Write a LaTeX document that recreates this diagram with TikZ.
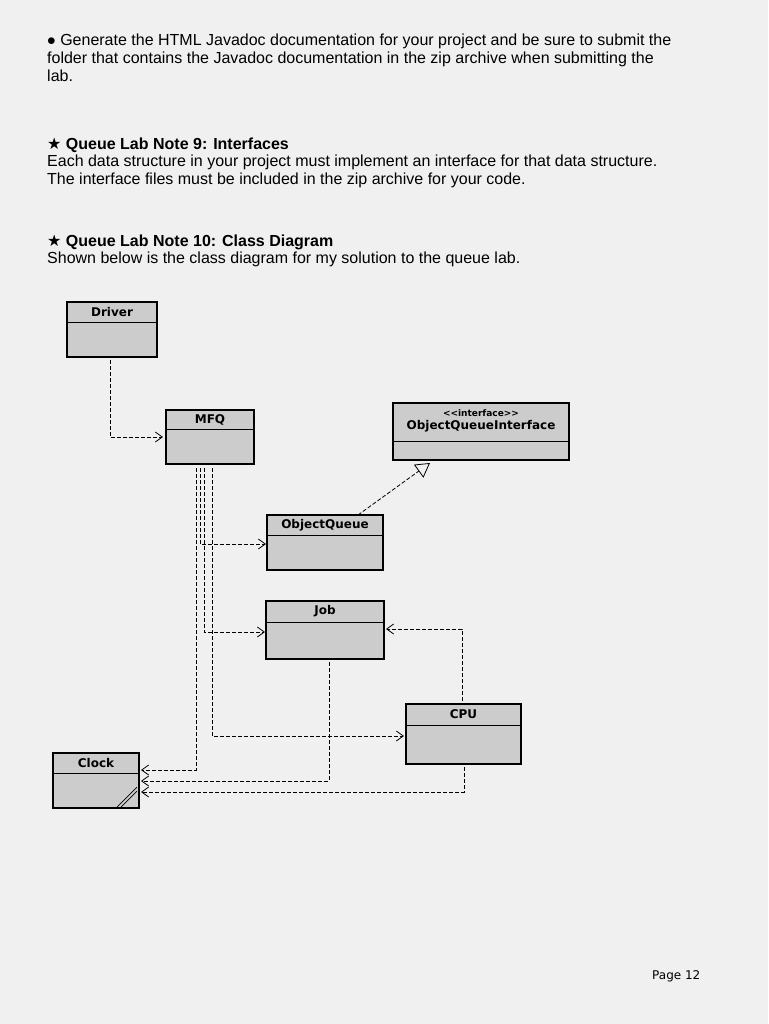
\documentclass[tikz,border=0pt]{standalone}
\usepackage{fontspec}
\setmainfont{Liberation Sans}
\newfontfamily\dv{DejaVu Sans}
\usetikzlibrary{arrows.meta}
\begin{document}
\begin{tikzpicture}[x=1pt,y=-1pt,
  txt/.style={anchor=base west,inner sep=0,font=\fontsize{16}{18}\selectfont},
  hd/.style={font=\dv\bfseries\fontsize{12}{14}\selectfont},
  dep/.style={dashed,dash pattern=on 4pt off 2pt,line width=0.8pt,-{Straight Barb[length=7pt,width=10pt]}},
  real/.style={dashed,dash pattern=on 4pt off 2pt,line width=0.8pt,-{Triangle[open,length=14pt,width=16pt,fill=black!6]}}]
\fill[black!6] (0,0) rectangle (768,1024);
\useasboundingbox (0,0) rectangle (768,1024);
\node[txt] (t1) at (47,46) {$\bullet$ Generate the HTML Javadoc documentation for your project and be sure to submit the};
\node[txt] (t2) at (47,64) {folder that contains the Javadoc documentation in the zip archive when submitting the};
\node[txt] (t3) at (47,82) {lab.};
\node[txt] (t4) at (47,150) {{\dv ★} \textbf{Queue Lab Note 9: Interfaces}};
\node[txt] (t5) at (47,167) {Each data structure in your project must implement an interface for that data structure.};
\node[txt] (t6) at (47,185) {The interface files must be included in the zip archive for your code.};
\node[txt] (t7) at (47,246) {{\dv ★} \textbf{Queue Lab Note 10: Class Diagram}};
\node[txt] (t8) at (47,263) {Shown below is the class diagram for my solution to the queue lab.};
\node[anchor=base west,inner sep=0,font=\dv\fontsize{12}{14}\selectfont] (pg) at (652,979) {Page 12};
% boxes
\newcommand\umlbox[7]{%
  \filldraw[fill=black!20,draw=black,line width=1.2pt] (#2,#3) rectangle (#4,#5);
  \draw[line width=0.8pt] (#2,#6) -- (#4,#6);
  \coordinate (#1) at ({(#2+#4)/2},{(#3+#5)/2});
  \node[hd] at ({(#2+#4)/2},{(#3+#6)/2}) {#7};}
\umlbox{drv}{67}{302}{157}{357}{322}{Driver}
\umlbox{mfq}{166}{410}{254}{464}{429}{MFQ}
\umlbox{oqi}{393}{403}{569}{460}{441}{}
\node[hd,align=center,inner sep=0] (oqilab) at (481,421) {{\fontsize{9}{10}\selectfont <{}<interface>{}>}\\[-1pt]ObjectQueueInterface};
\umlbox{oq}{267}{515}{383}{570}{535}{ObjectQueue}
\umlbox{job}{266}{601}{384}{659}{622}{Job}
\umlbox{cpu}{406}{704}{521}{764}{725}{CPU}
\umlbox{clk}{53}{753}{139}{808}{773}{Clock}
\draw[line width=0.7pt] (117,807) -- (137,787) (121,807) -- (137,791);
% connectors
\coordinate (a1) at (110,360); \coordinate (a2) at (163,437);
\draw[dep] (a1) |- (a2);
\coordinate (b1) at (358,515); \coordinate (b2) at (430,463);
\draw[real] (b1) -- (b2);
\coordinate (c1) at (200,468); \coordinate (c2) at (266,544);
\draw[dep] (c1) |- (c2);
\coordinate (d1) at (204,468); \coordinate (d2) at (265,632);
\draw[dep] (d1) |- (d2);
\coordinate (e1) at (212,468); \coordinate (e2) at (404,736);
\draw[dep] (e1) |- (e2);
\coordinate (f1) at (196,468); \coordinate (f2) at (141,770);
\draw[dep] (f1) |- (f2);
\coordinate (g1) at (329,662); \coordinate (g2) at (141,781);
\draw[dep] (g1) |- (g2);
\coordinate (h1) at (464,767); \coordinate (h2) at (141,792);
\draw[dep] (h1) |- (h2);
\coordinate (i1) at (462,701); \coordinate (i2) at (386,629);
\draw[dep] (i1) |- (i2);
\end{tikzpicture}
\end{document}
